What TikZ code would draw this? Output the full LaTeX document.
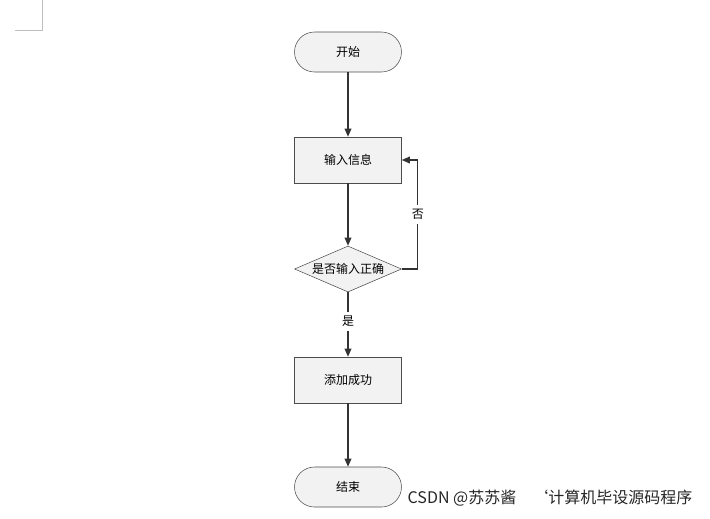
\documentclass[tikz,border=0pt]{standalone}
\usepackage{fontspec}
\setmainfont{Noto Sans CJK SC}
\usetikzlibrary{shapes.geometric,arrows.meta}
\begin{document}
\begin{tikzpicture}[x=0.75pt,y=-0.75pt,
  box/.style={draw=black!70,fill=black!5,minimum width=80.25pt,minimum height=34.5pt,font=\fontsize{9}{10}\selectfont},
  term/.style={box,rounded corners=15pt,minimum height=30pt},
  dec/.style={draw=black!70,fill=black!5,diamond,aspect=2.33,inner sep=0pt,minimum width=80.25pt,minimum height=34.5pt,font=\fontsize{9}{10}\selectfont},
  arr/.style={draw=black!80,line width=0.9pt,-{Triangle[length=6pt,width=5pt]}},
  lbl/.style={font=\fontsize{9}{10}\selectfont}]
\useasboundingbox (0,0) rectangle (710,518);
\draw[black!25] (42,0) -- (42,30) -- (15,30);
\node[term] (s) at (348,52) {开始};
\node[box] (in) at (348,160) {输入信息};
\node[dec] (d) at (348,269) {是否输入正确};
\node[box] (ok) at (348,380) {添加成功};
\node[term] (e) at (348,487) {结束};
\draw[arr] (s) -- (in);
\draw[arr] (in) -- (d);
\draw[arr] (d) -- node[lbl,fill=white,pos=0.45]{是} (ok);
\draw[arr] (ok) -- (e);
\draw[arr] (d.east) -- ++(16,0) |- node[lbl,fill=white,pos=0.25]{否} (in.east);
\node[font=\fontsize{12}{14}\selectfont,text=black!85,anchor=east] (wm) at (697,498) {CSDN @苏苏酱\quad `计算机毕设源码程序};
\end{tikzpicture}
\end{document}
